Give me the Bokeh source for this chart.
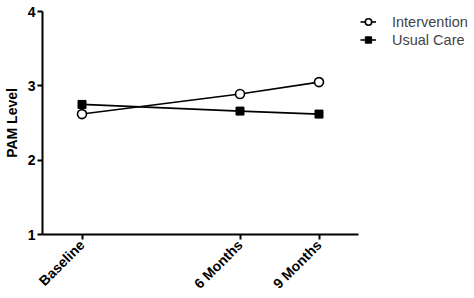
import math
from bokeh.plotting import figure
from bokeh.models import Range1d, FixedTicker, Legend, LegendItem
from bokeh.embed import file_html
from bokeh.resources import INLINE

# Data
months = [0, 6, 9]
tick_labels = {0: "Baseline", 6: "6 Months", 9: "9 Months"}
intervention = [2.62, 2.89, 3.05]
usual_care = [2.75, 2.66, 2.62]
y_ticks = [1, 2, 3, 4]

FONT = "Liberation Sans"

p = figure(frame_width=316, frame_height=223, output_backend="svg", toolbar_location=None,
           x_range=Range1d(-1.5, 10.5), y_range=Range1d(1, 4),
           min_border_left=38, min_border_right=120, min_border_top=11, min_border_bottom=64)
p.outline_line_color = None
p.grid.grid_line_color = None
p.background_fill_color = "white"
p.border_fill_color = "white"

for ax in (p.xaxis[0], p.yaxis[0]):
    ax.axis_line_width = 2
    ax.axis_line_color = "black"
    ax.major_tick_line_width = 2
    ax.major_tick_line_color = "black"
    ax.major_tick_out = 5
    ax.major_tick_in = 0
    ax.minor_tick_line_color = None
    ax.major_label_text_font = FONT
    ax.major_label_text_font_style = "bold"
    ax.major_label_text_color = "black"

p.xaxis.ticker = FixedTicker(ticks=months)
p.xaxis.major_label_overrides = tick_labels
p.xaxis.major_label_orientation = math.pi / 4
p.xaxis.major_label_text_font_size = "14px"
p.xaxis.major_label_standoff = 3

p.yaxis.ticker = FixedTicker(ticks=y_ticks)
p.yaxis.major_label_text_font_size = "14px"
p.yaxis.major_label_standoff = 2
p.yaxis.axis_label = "PAM Level"
p.yaxis.axis_label_text_font = FONT
p.yaxis.axis_label_text_font_style = "bold"
p.yaxis.axis_label_text_font_size = "14px"
p.yaxis.axis_label_text_color = "black"
p.yaxis.axis_label_standoff = 5

l1 = p.line(months, intervention, line_color="black", line_width=1.6)
s1 = p.scatter(months, intervention, marker="circle", size=9, fill_color="white",
               line_color="black", line_width=1.6)
l2 = p.line(months, usual_care, line_color="black", line_width=1.6)
s2 = p.scatter(months, usual_care, marker="square", size=8, fill_color="black",
               line_color="black", line_width=1)

legend = Legend(items=[LegendItem(label="Intervention", renderers=[l1, s1]),
                       LegendItem(label="Usual Care", renderers=[l2, s2])],
                location="top_left", margin=-5, padding=7, spacing=1,
                glyph_width=16, glyph_height=17, label_height=17, label_standoff=16,
                label_text_font=FONT, label_text_font_size="14.5px",
                border_line_alpha=0, background_fill_alpha=0)
p.add_layout(legend, "right")

open("out.html", "w").write(file_html(p, INLINE))
